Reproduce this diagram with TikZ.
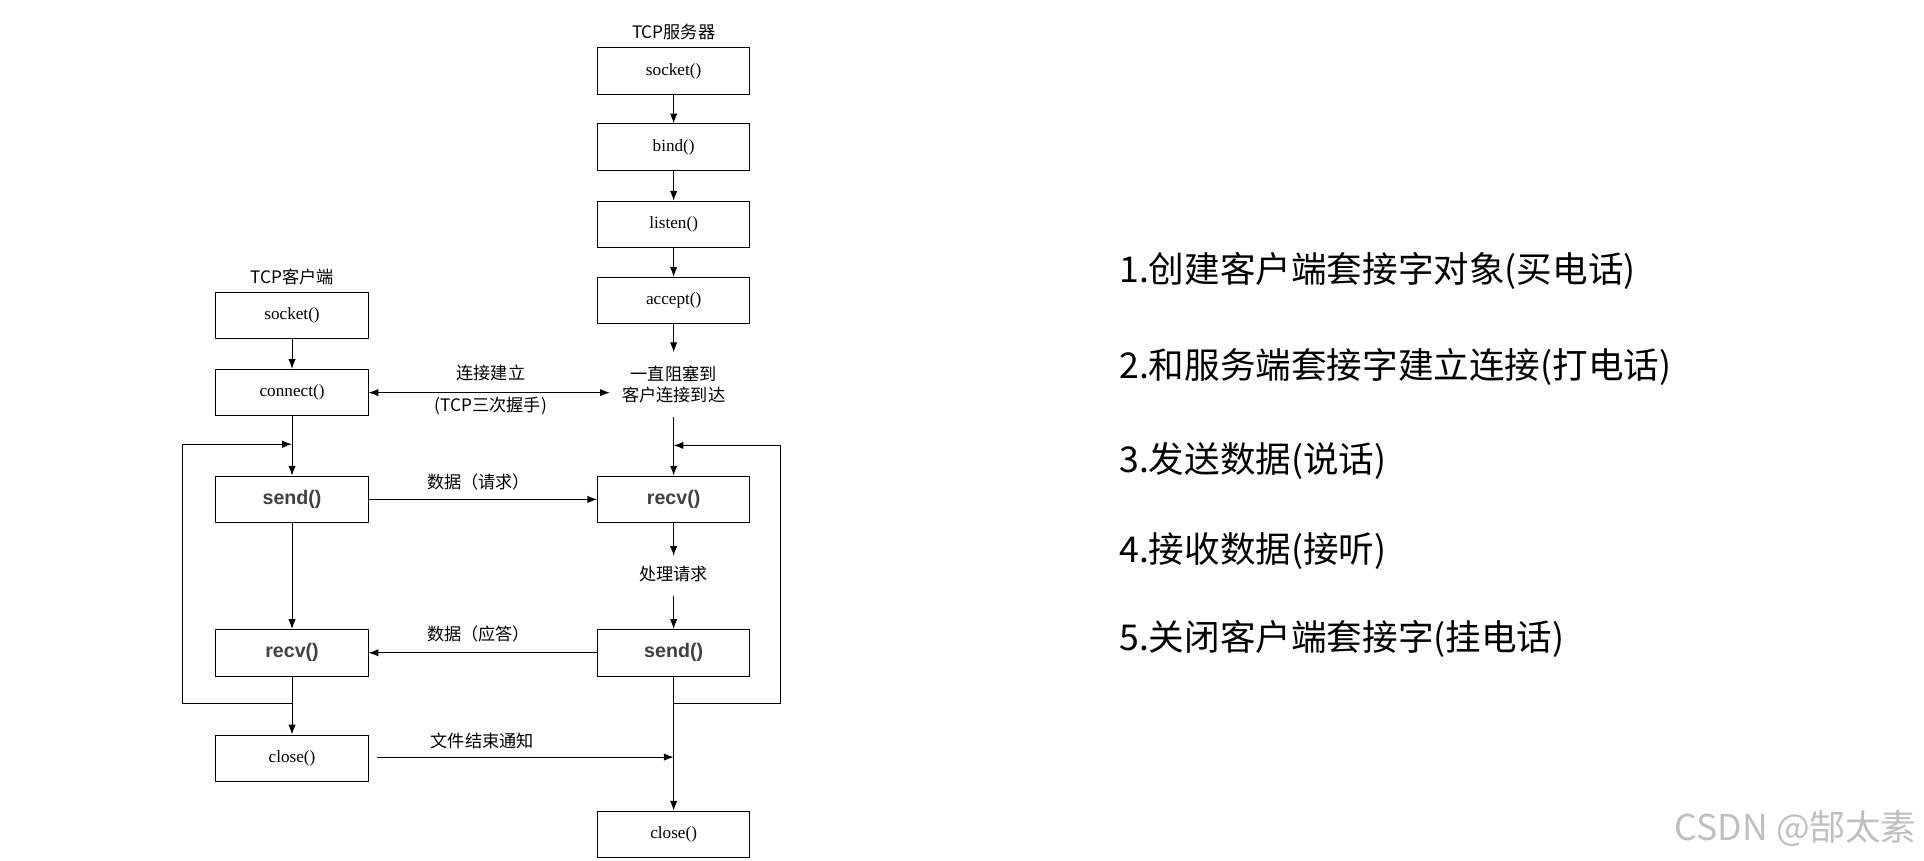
\documentclass[tikz,border=0pt]{standalone}
\usepackage{fontspec}
\setmainfont{Liberation Serif}
\newfontfamily\cjk{Noto Sans CJK SC}
\newfontfamily\bsans{Liberation Sans}
\usetikzlibrary{arrows.meta}
\begin{document}
\begin{tikzpicture}[x=1pt,y=-1pt,
  box/.style={draw,thick,minimum width=124pt,minimum height=38pt,inner sep=0pt,font=\fontsize{14}{16}\selectfont},
  bbox/.style={box,font=\bsans\bfseries\fontsize{16}{18}\selectfont,text=black!75},
  lab/.style={font=\cjk\fontsize{14}{17}\selectfont,align=center,inner sep=1pt},
  rt/.style={font=\cjk\fontsize{29}{34}\selectfont,anchor=west,inner sep=0pt},
  ar/.style={thick,-{Latex[length=8pt,width=6pt]}},
  ln/.style={thick}]
\useasboundingbox (0,0) rectangle (1568,701);
\fill[white] (0,0) rectangle (1568,701);
% server
\node[lab] (st) at (549,26) {TCP服务器};
\node[box] (ss) at (549,58) {socket()};
\node[box] (sb) at (549,120) {bind()};
\node[box] (sl) at (549,183) {listen()};
\node[box] (sa) at (549,245) {accept()};
\node[lab] (blk) at (549,313) {一直阻塞到\\客户连接到达};
\node[bbox] (sr) at (549,407) {recv()};
\node[lab] (proc) at (549,468) {处理请求};
\node[bbox] (ssd) at (549,532) {send()};
\node[box] (sc) at (549,680) {close()};
% client
\node[lab] (ct) at (238,226) {TCP客户端};
\node[box] (cs) at (238,257) {socket()};
\node[box] (cc) at (238,320) {connect()};
\node[bbox] (csd) at (238,407) {send()};
\node[bbox] (cr) at (238,532) {recv()};
\node[box] (ccl) at (238,618) {close()};
% server flow
\draw[ar] (ss) -- (sb);
\draw[ar] (sb) -- (sl);
\draw[ar] (sl) -- (sa);
\draw[ar] (sa.south) -- (549,287);
\coordinate (b1) at (549,340);
\draw[ar] (b1) -- (sr.north);
\draw[ar] (sr.south) -- (549,453);
\coordinate (p1) at (549,486);
\draw[ar] (p1) -- (ssd.north);
\draw[ar] (ssd.south) -- (sc.north);
\coordinate (sl1) at (549,573);
\coordinate (sl2) at (549,363);
\draw[ln,-{Latex[length=8pt,width=6pt]}] (sl1) -- (636,573) -- (636,363) -- (sl2);
% client flow
\draw[ar] (cs) -- (cc);
\draw[ar] (cc) -- (csd);
\draw[ar] (csd) -- (cr);
\draw[ar] (cr) -- (ccl);
\coordinate (cl1) at (238,573);
\coordinate (cl2) at (238,362);
\draw[ln,-{Latex[length=8pt,width=6pt]}] (cl1) -- (149,573) -- (149,362) -- (cl2);
% between
\coordinate (bw) at (497,320);
\draw[thick,{Latex[length=8pt,width=6pt]}-{Latex[length=8pt,width=6pt]}] (cc.east) -- (bw);
\node[lab] (l1) at (400,304) {连接建立};
\node[lab] (l2) at (400,331) {(TCP三次握手)};
\draw[ar] (csd.east) -- (sr.west);
\node[lab] (l3) at (390,393) {数据（请求）};
\draw[ar] (ssd.west) -- (cr.east);
\node[lab] (l4) at (390,517) {数据（应答）};
\coordinate (cl3) at (307,617);
\coordinate (cl4) at (549,617);
\draw[ar] (cl3) -- (cl4);
\node[lab] (l5) at (393,604) {文件结束通知};
% right text
\node[rt] (t1) at (912,221) {1.创建客户端套接字对象(买电话)};
\node[rt] (t2) at (912,299) {2.和服务端套接字建立连接(打电话)};
\node[rt] (t3) at (912,376) {3.发送数据(说话)};
\node[rt] (t4) at (912,449) {4.接收数据(接听)};
\node[rt] (t5) at (912,521) {5.关闭客户端套接字(挂电话)};
\node[font=\cjk\fontsize{29}{34}\selectfont,text=black!25,anchor=east,inner sep=0pt] (wm) at (1562,675) {CSDN @郜太素};
\end{tikzpicture}
\end{document}
